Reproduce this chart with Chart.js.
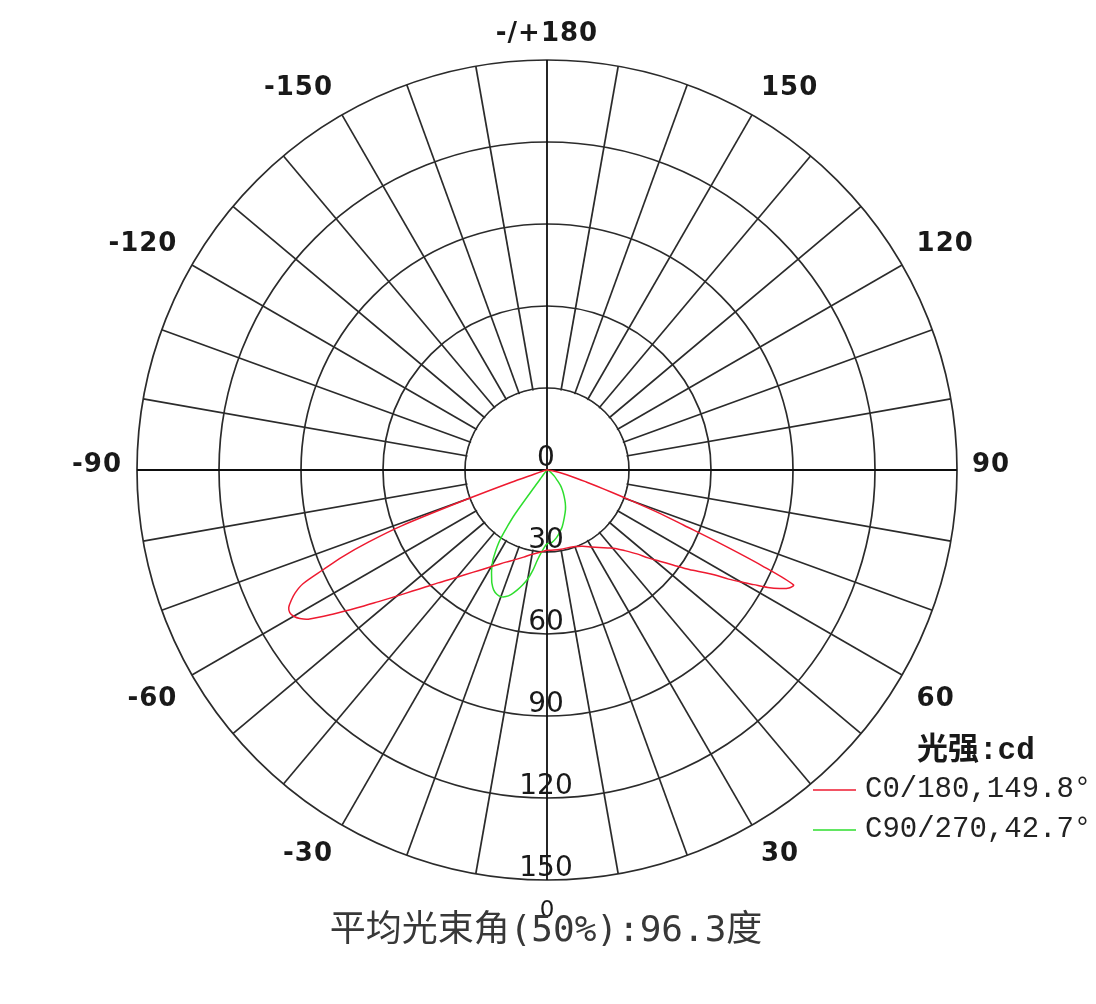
<!DOCTYPE html>
<html>
<head>
<meta charset="utf-8">
<script src="https://cdn.jsdelivr.net/npm/chart.js@4.4.1/dist/chart.umd.min.js"></script>
<style>
  html, body { margin: 0; padding: 0; background: #fff; }
  canvas { display: block; }
</style>
</head>
<body>
<canvas id="polar" width="1096" height="1004"></canvas>
<script>
// Luminous intensity (cd) against gamma angle (deg), C0/180 plane
const c0Angles = [-90, -80, -75, -72, -71, -70, -69, -68, -67, -66, -65, -64, -63, -62, -61, -60, -59, -58, -56, -54, -52, -50, -48, -46, -44, -40, -36, -32, -28, -24, -20, -15, -11, -5, 0,
  5, 10, 19, 25, 30, 34, 38, 41, 44, 47, 49, 51, 53, 55, 57, 58, 59, 60, 61, 62, 63, 64, 65, 66, 67, 68, 69, 70, 71, 72, 73, 75, 78, 82, 86, 90];
const c0Values = [0, 0.5, 1.5, 5, 14, 30, 57, 70.5, 81.5, 89.5, 98.5, 102.5, 105, 107, 107.6, 107, 105.5, 103, 94.2, 85.8, 78.2, 71.8, 66.2, 61.5, 57.4, 51.2, 46.3, 42.5, 39.4, 36.9, 35, 33, 31.6, 30.2, 29.4,
  29.4, 29.4, 29.7, 30.8, 32.5, 34.2, 36.2, 38, 41, 45, 49, 53, 57.7, 63.5, 69, 72.5, 77.5, 82, 86.5, 91.5, 95.5, 98.5, 99.5, 86, 69, 54, 44, 33, 25, 19, 15, 9.8, 5, 2, 0.5, 0];

// C90/270 plane
const c90Angles = [-90, -42, -38, -37, -36, -35, -34, -33, -32, -31, -29, -27, -26, -24, -22, -20, -18, -16, -14, -12, -10, -8, -6, -4, -2, 0,
  4, 8, 12, 15, 20, 25, 29, 33, 37, 41, 45, 50, 55, 60, 70, 80, 90];
const c90Values = [0, 0, 2, 4, 20, 25.5, 30.5, 33.5, 36, 38.4, 41.8, 44.6, 46, 48, 49, 49.3, 48.7, 47.3, 45.3, 43, 40.5, 37, 33, 30.3, 28.3, 27,
  26.5, 25, 23, 21.5, 18.5, 16, 13.8, 11.5, 9.5, 7.5, 5.2, 3.5, 2.2, 1.5, 0.5, 0.2, 0];

const seriesNames = ['C0/180,149.8°', 'C90/270,42.7°'];
const seriesColors = ['#ee1a30', '#2ede2e'];

const radialTicks = [0, 30, 60, 90, 120, 150];
const angleTicks = [0, -30, -60, -90, -120, -150, 180, 150, 120, 90, 60, 30];
const angleTickLabels = ['0', '-30', '-60', '-90', '-120', '-150', '-/+180', '150', '120', '90', '60', '30'];

const unitLabel = '光强:cd';
const footerText = '平均光束角(50%):96.3度';

// One radar slot per degree; slot 0 points straight down and the slots run
// clockwise through the negative angles to -/+180 and back via the positive ones.
const STEP = 1;
const SLOTS = 360 / STEP;
const slotOf = a => ((Math.round(-a / STEP) % SLOTS) + SLOTS) % SLOTS;
const slotLabels = Array.from({ length: SLOTS }, (_, i) => String(i * STEP <= 180 ? -i * STEP : 360 - i * STEP));

function toSlots(angles, values) {
  const out = new Array(SLOTS).fill(null);
  angles.forEach((a, k) => { out[slotOf(a)] = values[k]; });
  return out;
}

const GRID = '#2b2b2b';
const AXIS = '#0e0e0e';
const TEXT = '#191919';

const polarDecor = {
  id: 'polarDecor',
  beforeDatasetsDraw(chart) {
    const s = chart.scales.r;
    const ctx = chart.ctx;
    const inner = s.getDistanceFromCenterForValue(radialTicks[1]);
    const outer = s.getDistanceFromCenterForValue(radialTicks[radialTicks.length - 1]);
    ctx.save();
    // radial spokes start at the first ring: clear the middle disc
    ctx.fillStyle = '#ffffff';
    ctx.beginPath();
    ctx.arc(s.xCenter, s.yCenter, inner - 1.2, 0, Math.PI * 2);
    ctx.fill();
    // main axes through the centre
    ctx.strokeStyle = AXIS;
    ctx.lineWidth = 1.8;
    [[0, 180], [-90, 90]].forEach(([a1, a2]) => {
      const p1 = s.getPointPosition(slotOf(a1), outer);
      const p2 = s.getPointPosition(slotOf(a2), outer);
      ctx.beginPath();
      ctx.moveTo(p1.x, p1.y);
      ctx.lineTo(p2.x, p2.y);
      ctx.stroke();
    });
    ctx.restore();
  },
  afterDatasetsDraw(chart) {
    const s = chart.scales.r;
    const ctx = chart.ctx;
    const outer = s.getDistanceFromCenterForValue(radialTicks[radialTicks.length - 1]);
    ctx.save();
    ctx.fillStyle = TEXT;

    // intensity ticks along the downward axis
    ctx.font = '28px "DejaVu Sans"';
    ctx.textAlign = 'center';
    ctx.textBaseline = 'alphabetic';
    radialTicks.forEach(v => {
      const p = s.getPointPosition(0, s.getDistanceFromCenterForValue(v));
      ctx.fillText(String(v), p.x - 1, p.y - 4.5);
    });

    // gamma angle labels round the rim
    angleTicks.forEach((a, k) => {
      const p = s.getPointPosition(slotOf(a), outer + 15);
      const text = angleTickLabels[k];
      ctx.font = a === 0 ? '23px "DejaVu Sans"' : 'bold 26px "DejaVu Sans"';
      ctx.letterSpacing = a === 0 ? '0px' : '1px';
      let x = p.x, y = p.y;
      if (a === 0) { ctx.textAlign = 'center'; y = p.y + 22; }
      else if (a === 180) { ctx.textAlign = 'center'; y = p.y - 4; }
      else if (Math.abs(a) === 90) { ctx.textAlign = a > 0 ? 'left' : 'right'; y = p.y + 2; }
      else {
        ctx.textAlign = a > 0 ? 'left' : 'right';
        x = a > 0 ? p.x + 1.5 : p.x - 1.5;
        y = Math.abs(a) > 90 ? p.y - 7 : p.y + 23;
      }
      ctx.fillText(text, x, y);
    });
    ctx.letterSpacing = '0px';

    // legend
    ctx.textAlign = 'left';
    ctx.textBaseline = 'middle';
    ctx.font = 'bold 31px "Liberation Mono", "Noto Sans CJK SC"';
    ctx.fillText(unitLabel, 917, 751);
    chart.data.datasets.forEach((ds, k) => {
      const y = 790 + k * 40;
      ctx.strokeStyle = ds.borderColor;
      ctx.lineWidth = 1.6;
      ctx.beginPath();
      ctx.moveTo(813, y);
      ctx.lineTo(856, y);
      ctx.stroke();
      ctx.fillStyle = '#222222';
      ctx.font = '29px "Liberation Mono"';
      ctx.fillText(ds.label, 865, y - 1);
    });

    // footer
    ctx.fillStyle = '#383838';
    ctx.textAlign = 'center';
    ctx.font = '36px "DejaVu Sans Mono", "Noto Sans CJK SC"';
    ctx.fillText(footerText, 546, 932);
    ctx.restore();
  }
};

new Chart(document.getElementById('polar'), {
  type: 'radar',
  data: {
    labels: slotLabels,
    datasets: [
      { label: seriesNames[0], data: toSlots(c0Angles, c0Values), borderColor: seriesColors[0] },
      { label: seriesNames[1], data: toSlots(c90Angles, c90Values), borderColor: seriesColors[1] }
    ]
  },
  options: {
    responsive: false,
    devicePixelRatio: 1,
    animation: false,
    events: [],
    layout: { padding: { left: 137, right: 139, top: 60, bottom: 124 } },
    elements: {
      point: { radius: 0 },
      line: { borderWidth: 1.5, tension: 0.3, fill: false }
    },
    datasets: { radar: { spanGaps: true } },
    plugins: { legend: { display: false }, tooltip: { enabled: false }, title: { display: false } },
    scales: {
      r: {
        min: 0,
        max: 150,
        startAngle: 180,
        ticks: { display: false, stepSize: 30 },
        pointLabels: { display: false },
        grid: { circular: true, color: GRID, lineWidth: 1.7 },
        angleLines: {
          color: GRID,
          lineWidth: c => ((c.index * STEP) % 10 === 0 && (c.index * STEP) % 90 !== 0) ? 1.7 : 0
        }
      }
    }
  },
  plugins: [polarDecor]
});
</script>
</body>
</html>
